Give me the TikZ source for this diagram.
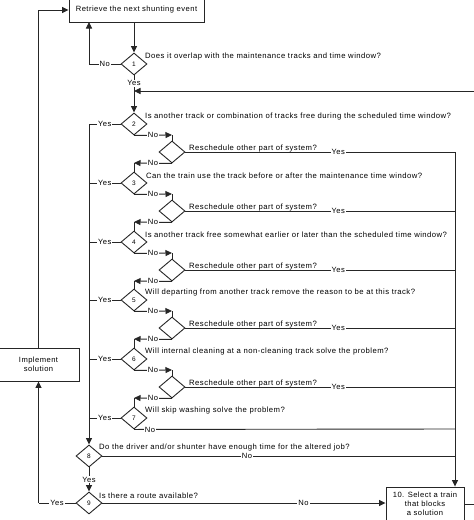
\documentclass[tikz,border=0pt]{standalone}
\usepackage{fontspec}
\setmainfont{Liberation Sans}[LetterSpace=6]
\usetikzlibrary{shapes.geometric,arrows.meta}
\tikzset{
  ln/.style={line width=0.9pt, draw=black!85},
  arr/.style={ln, -{Triangle[length=6.5pt,width=6pt]}},
  dia/.style={shape=diamond, draw=black!85, line width=0.9pt, minimum width=26pt, minimum height=22pt, inner sep=0pt, font=\fontsize{6.5}{7}\selectfont, fill=white},
  boxnode/.style={draw=black!85, line width=0.9pt, fill=white, align=center, inner sep=1pt, font=\fontsize{7.6}{9}\selectfont},
  qtext/.style={anchor=west, inner sep=0pt, font=\fontsize{7.7}{9}\selectfont},
  rtext/.style={anchor=base west, inner sep=0pt, font=\fontsize{7.7}{9}\selectfont},
  lab/.style={fill=white, inner sep=1pt, font=\fontsize{7.6}{9}\selectfont},
}
\begin{document}
\begin{tikzpicture}[x=1pt,y=-1pt]
\useasboundingbox (0,0) rectangle (474,520);
\clip (0,0) rectangle (474,520);
% boxes
\node[boxnode, minimum width=135pt, minimum height=24pt] (retr) at (136.5,10) {Retrieve the next shunting event};
\node[boxnode, minimum width=81pt, minimum height=33pt] (impl) at (38.5,364.5) {Implement\\solution};
\node[boxnode, minimum width=78pt, minimum height=34pt] (b10) at (425,504) {10. Select a train\\that blocks\\a solution};
% numbered diamonds
\node[dia] (d1) at (134,64) {1};
\foreach \k/\y in {2/124,3/183,4/242,5/300,6/359,7/418}{
  \node[dia] (d\k) at (134,\y) {\k};
}
\node[dia] (d8) at (89,456) {8};
\node[dia] (d9) at (89,503) {9};
% small diamonds
\foreach \k/\y in {2/124,3/183,4/242,5/300,6/359}{
  \node[dia] (s\k) at (172,\y+28) {};
}
% questions
\node[qtext] (q1) at (145,57) {Does it overlap with the maintenance tracks and time window?};
\node[qtext] (q2) at (145,117) {Is another track or combination of tracks free during the scheduled time window?};
\node[qtext] (q3) at (146,176) {Can the train use the track before or after the maintenance time window?};
\node[qtext] (q4) at (145,235) {Is another track free somewhat earlier or later than the scheduled time window?};
\node[qtext] (q5) at (145,293) {Will departing from another track remove the reason to be at this track?};
\node[qtext] (q6) at (145,352) {Will internal cleaning at a non-cleaning track solve the problem?};
\node[qtext] (q7) at (145,411) {Will skip washing solve the problem?};
\node[qtext] (q8) at (99,448) {Do the driver and/or shunter have enough time for the altered job?};
\node[qtext] (q9) at (99,496) {Is there a route available?};
\foreach \k/\y in {2/124,3/183,4/242,5/300,6/359}{
  \node[rtext] (r\k) at (189,\y+26.5) {Reschedule other part of system?};
}
% coordinates
\coordinate (r1) at (89,22);
\coordinate (c1n) at (89,64);
\coordinate (j) at (134,91);
\coordinate (rin) at (480,91);
\coordinate (rout) at (480,504);
\coordinate (c9) at (38.5,503);
% top part
\draw[arr] (impl.north) |- (retr.west);
\draw[arr] (retr.south -| d1.north) -- (d1.north);
\draw[ln] (d1.west) -- node[lab]{No} (c1n);
\draw[arr] (c1n) -- (r1);
\draw[ln] (d1.south) -- node[lab]{Yes} (j);
\draw[arr] (j) -- (d2.north);
\draw[arr] (rin) -- (j);
% rows
\foreach \k/\y/\n in {2/124/3,3/183/4,4/242/5,5/300/6,6/359/7}{
  \coordinate (ck\k) at (172,\y+11);
  \coordinate (bk\k) at (134,\y+39);
  \coordinate (ek\k) at (455,\y+28);
  \draw[arr] (d\k.south) -- node[lab]{No} (ck\k);
  \draw[ln] (ck\k) -- (s\k.north);
  \draw[arr] (s\k.south) -- node[lab]{No} (bk\k);
  \draw[ln] (bk\k) -- (d\n.north);
  \draw[ln] (s\k.east) -- node[lab,pos=0.567]{Yes} (ek\k);
}
\foreach \k/\y in {2/124,3/183,4/242,5/300,6/359,7/418}{
  \coordinate (yl\k) at (89,\y);
  \draw[ln] (d\k.west) -- node[lab]{Yes} (yl\k);
}
\draw[arr] (yl2) -- (d8.north);
\coordinate (e7) at (455,429);
\coordinate (e8) at (455,456);
\draw[ln] (d7.south) -- node[lab,pos=0.05]{No} (e7);
\draw[ln] (d8.east) -- node[lab,pos=0.41]{No} (e8);
\draw[arr] (ek2) -- (ek2 |- b10.north);
\draw[arr] (d8.south) -- node[lab]{Yes} (d9.north);
\draw[arr] (d9.east) -- node[lab,pos=0.71]{No} (d9.east -| b10.west);
\draw[ln] (d9.west) -- node[lab]{Yes} (c9);
\draw[arr] (c9) -- (impl.south);
\draw[ln] (b10.east) -- (rout);
\end{tikzpicture}
\end{document}
